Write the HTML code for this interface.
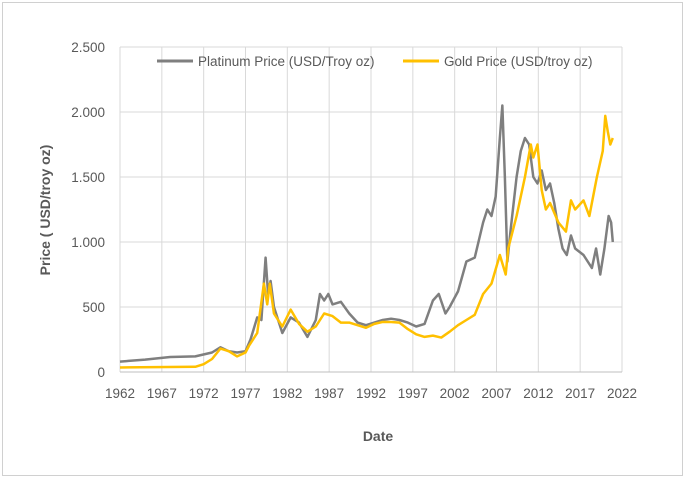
<!DOCTYPE html>
<html><head><meta charset="utf-8"><style>
body{margin:0;background:#fff;}
svg{font-family:"Liberation Sans",sans-serif;}
</style></head><body>
<svg width="685" height="478">
<rect x="2.5" y="2.5" width="680" height="473" fill="#fff" stroke="#d0d0d0"/>
<g id="grid"></g>
<g id="axes"></g>
<g id="series"></g>
<g>
<line x1="157" y1="61" x2="193" y2="61" stroke="#7f7f7f" stroke-width="3"/>
<text x="198" y="66" font-size="13.5" fill="#595959">Platinum Price (USD/Troy oz)</text>
<line x1="403" y1="61" x2="439" y2="61" stroke="#ffc000" stroke-width="3"/>
<text x="444" y="66" font-size="13.5" fill="#595959">Gold Price (USD/troy oz)</text>
</g>
<text x="378" y="441" font-size="14" font-weight="bold" fill="#595959" text-anchor="middle">Date</text>
<text transform="translate(50,210) rotate(-90)" font-size="14" font-weight="bold" fill="#595959" text-anchor="middle">Price ( USD/troy oz)</text>
</svg>
<script>
const xTicks=[1962,1967,1972,1977,1982,1987,1992,1997,2002,2007,2012,2017,2022];
const yTicks=[0,500,1000,1500,2000,2500];
const yTickLabels=["0","500","1.000","1.500","2.000","2.500"];
const platYears=[1962,1965,1968,1971,1973,1974,1975,1976,1977,1977.6,1978.4,1978.9,1979.4,1979.7,1980.0,1980.4,1981.4,1982.4,1983.4,1984.4,1985.4,1985.9,1986.4,1986.9,1987.4,1988.4,1989.4,1990.4,1991.4,1992.4,1993.4,1994.4,1995.4,1996.4,1997.4,1998.4,1999.4,2000.1,2000.9,2001.4,2002.4,2003.4,2004.4,2005.4,2005.9,2006.4,2006.9,2007.4,2007.7,2008.0,2008.3,2008.7,2009.4,2009.9,2010.4,2010.9,2011.4,2011.9,2012.4,2012.9,2013.4,2013.9,2014.4,2014.9,2015.4,2015.9,2016.4,2017.4,2018.4,2018.9,2019.4,2019.9,2020.4,2020.7,2020.9];
const platValues=[80,95,115,120,150,190,160,150,160,250,420,400,880,600,700,500,300,420,380,270,400,600,550,600,520,540,450,380,360,380,400,410,400,380,350,370,550,600,450,500,620,850,880,1150,1250,1200,1350,1800,2050,1500,850,1100,1500,1700,1800,1750,1500,1450,1550,1400,1450,1300,1100,950,900,1050,950,900,800,950,750,950,1200,1150,1000];
const goldYears=[1962,1971,1972,1973,1974,1975,1976,1977,1977.4,1978.4,1979.2,1979.6,1979.9,1980.4,1981.4,1982.4,1983.4,1984.4,1985.4,1986.4,1987.4,1988.4,1989.4,1990.4,1991.4,1992.4,1993.4,1994.4,1995.4,1996.4,1997.4,1998.4,1999.4,2000.4,2001.4,2002.4,2003.4,2004.4,2005.4,2006.4,2007.4,2008.1,2008.4,2009.4,2010.4,2011.1,2011.4,2011.9,2012.4,2012.9,2013.4,2014.4,2015.3,2015.9,2016.4,2017.4,2018.1,2018.4,2019.0,2019.7,2020.0,2020.3,2020.6,2020.9];
const goldValues=[35,40,60,100,180,160,120,150,200,300,680,520,680,450,350,480,370,310,350,450,430,380,380,360,340,370,385,385,380,330,290,270,280,265,310,360,400,440,600,680,900,750,950,1200,1500,1750,1650,1750,1400,1250,1300,1150,1080,1320,1250,1320,1200,1300,1500,1700,1970,1850,1750,1800];
const X=y=>120+(y-1962)*(502/60);
const Y=v=>372-v*(325/2500);
const ns="http://www.w3.org/2000/svg";
function mk(tag,parent,attrs){const e=document.createElementNS(ns,tag);for(const k in attrs)e.setAttribute(k,attrs[k]);document.getElementById(parent).appendChild(e);return e;}
xTicks.forEach((t,i)=>{
  const l=mk('line','grid',{x1:X(t),x2:X(t),y1:Y(2500),y2:Y(0),stroke:'#d9d9d9','stroke-width':1});
  
  
  const tx=mk('text','axes',{x:X(t),y:398,'font-size':13.5,fill:'#595959','text-anchor':'middle'});
  tx.textContent=t;
  
  
});
yTicks.forEach((t,i)=>{
  const l=mk('line','grid',{x1:X(1962),x2:X(2022),y1:Y(t),y2:Y(t),stroke:'#d9d9d9','stroke-width':1});
  
  
  const tx=mk('text','axes',{x:105,y:Y(t)+5,'font-size':13.5,fill:'#595959','text-anchor':'end'});
  tx.textContent=yTickLabels[i];
  
  
});
const ax=mk('line','axes',{x1:X(1962),x2:X(2022),y1:Y(0),y2:Y(0),stroke:'#bfbfbf','stroke-width':1});


const pp=mk('polyline','series',{points:platYears.map((y,i)=>X(y)+','+Y(platValues[i])).join(' '),fill:'none',stroke:'#7f7f7f','stroke-width':2.5,'stroke-linejoin':'round'});


const gp=mk('polyline','series',{points:goldYears.map((y,i)=>X(y)+','+Y(goldValues[i])).join(' '),fill:'none',stroke:'#ffc000','stroke-width':2.5,'stroke-linejoin':'round'});


</script>
</body></html>
